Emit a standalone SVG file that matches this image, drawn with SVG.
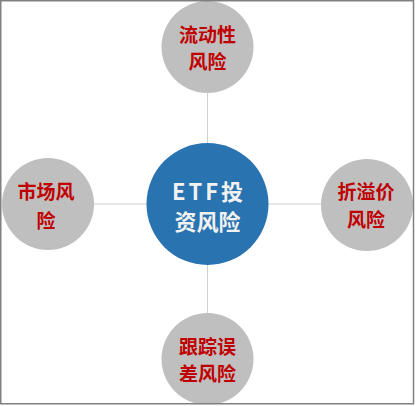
<svg xmlns="http://www.w3.org/2000/svg" width="416" height="406" viewBox="0 0 416 406">
<style>
.sat{fill:#bfbfbf;}
.hub{fill:#2a73b1;}
.lbl{font-family:"Noto Sans CJK SC","Noto Sans",sans-serif;font-weight:bold;font-size:19px;fill:#c00000;text-anchor:middle;}
.hubt{font-family:"Noto Sans CJK SC","Noto Sans",sans-serif;font-weight:bold;font-size:22px;fill:#f2f2f2;text-anchor:middle;}
.conn{stroke:#d0d0d0;stroke-width:1;fill:none;}
</style>
<defs>
<clipPath id="frame"><rect x="1" y="1" width="412" height="402"/></clipPath>
</defs>
<rect x="0" y="0" width="416" height="406" fill="#ffffff"/>
<g clip-path="url(#frame)">
<g id="connectors">
<line class="conn" x1="207.5" y1="47" x2="207.5" y2="359"/>
<line class="conn" x1="48" y1="204" x2="367" y2="204"/>
</g>
<g id="node-top">
<circle class="sat" cx="207.5" cy="47" r="46"/>
<text class="lbl" x="207.5" y="42">流动性</text>
<text class="lbl" x="207.5" y="69">风险</text>
</g>
<g id="node-left">
<circle class="sat" cx="48" cy="204" r="46"/>
<text class="lbl" x="46" y="199">市场风</text>
<text class="lbl" x="46" y="228">险</text>
</g>
<g id="node-right">
<circle class="sat" cx="367" cy="205" r="46"/>
<text class="lbl" x="366" y="199">折溢价</text>
<text class="lbl" x="366" y="227">风险</text>
</g>
<g id="node-bottom">
<circle class="sat" cx="207.5" cy="359" r="46"/>
<text class="lbl" x="207.5" y="354">跟踪误</text>
<text class="lbl" x="207.5" y="381">差风险</text>
</g>
<g id="node-center">
<circle class="hub" cx="207.5" cy="204" r="61"/>
<text class="hubt" x="207.5" y="200"><tspan letter-spacing="3">ETF</tspan>投</text>
<text class="hubt" x="207.5" y="230">资风险</text>
</g>
</g>
<rect x="0.75" y="0.75" width="412.75" height="403" fill="none" stroke="#808080" stroke-width="1.5"/>
</svg>
